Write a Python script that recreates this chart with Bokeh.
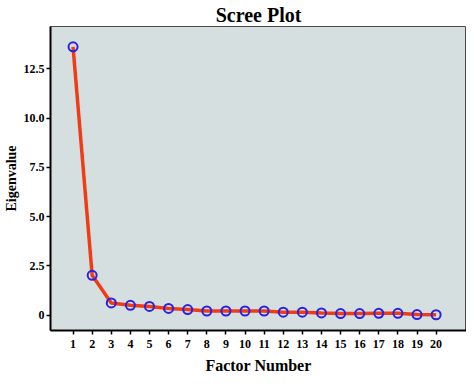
from bokeh.plotting import figure
from bokeh.models import FixedTicker, Range1d
from bokeh.embed import file_html
from bokeh.resources import INLINE

factors = list(range(1, 21))
eigenvalues = [13.62, 2.02, 0.62, 0.50, 0.44, 0.34, 0.28, 0.21, 0.21, 0.21,
               0.21, 0.15, 0.15, 0.11, 0.08, 0.08, 0.09, 0.09, 0.03, 0.02]
y_ticks = [0, 2.5, 5.0, 7.5, 10.0, 12.5]
y_tick_labels = {0: "0", 2.5: "2.5", 5.0: "5.0", 7.5: "7.5", 10.0: "10.0", 12.5: "12.5"}

FONT = "Liberation Serif"

p = figure(width=466, height=376, output_backend="svg", toolbar_location=None,
           title="Scree Plot",
           x_range=Range1d(-0.18, 21.59), y_range=Range1d(-0.78, 14.65),
           min_border_left=0, min_border_right=0, min_border_top=0, min_border_bottom=0)

p.background_fill_color = "#d6dfe0"
p.border_fill_color = "white"
p.outline_line_color = "#4a4a4a"
p.outline_line_width = 1
p.grid.visible = False

p.title.text_font = FONT
p.title.text_font_style = "bold"
p.title.text_font_size = "20px"
p.title.text_color = "black"
p.title.align = "center"
p.title.standoff = 2
p.title.offset = 0

p.line(factors, eigenvalues, line_color="#f03c14", line_width=3.5)
p.scatter(factors, eigenvalues, marker="circle", size=9, fill_color=None,
          line_color="#2a22dd", line_width=2)

xa = p.xaxis[0]
xa.ticker = FixedTicker(ticks=factors)
xa.axis_label = "Factor Number"
ya = p.yaxis[0]
ya.ticker = FixedTicker(ticks=y_ticks)
ya.major_label_overrides = y_tick_labels
ya.axis_label = "Eigenvalue"

for ax in (xa, ya):
    ax.axis_line_color = "black"
    ax.axis_line_width = 2
    ax.major_tick_line_color = "black"
    ax.major_tick_line_width = 1.5
    ax.major_tick_out = 4
    ax.major_tick_in = 0
    ax.minor_tick_out = 0
    ax.minor_tick_in = 0
    ax.major_label_text_font = FONT
    ax.major_label_text_font_style = "bold"
    ax.major_label_text_font_size = "12px"
    ax.major_label_text_color = "black"
    ax.axis_label_text_font = FONT
    ax.axis_label_text_font_style = "bold"
    ax.axis_label_text_color = "black"

xa.axis_label_text_font_size = "16px"
ya.axis_label_text_font_size = "14px"
xa.major_label_standoff = 5
xa.axis_label_standoff = 6
ya.major_label_standoff = 2
ya.axis_label_standoff = 2

open("out.html", "w").write(file_html(p, INLINE))
